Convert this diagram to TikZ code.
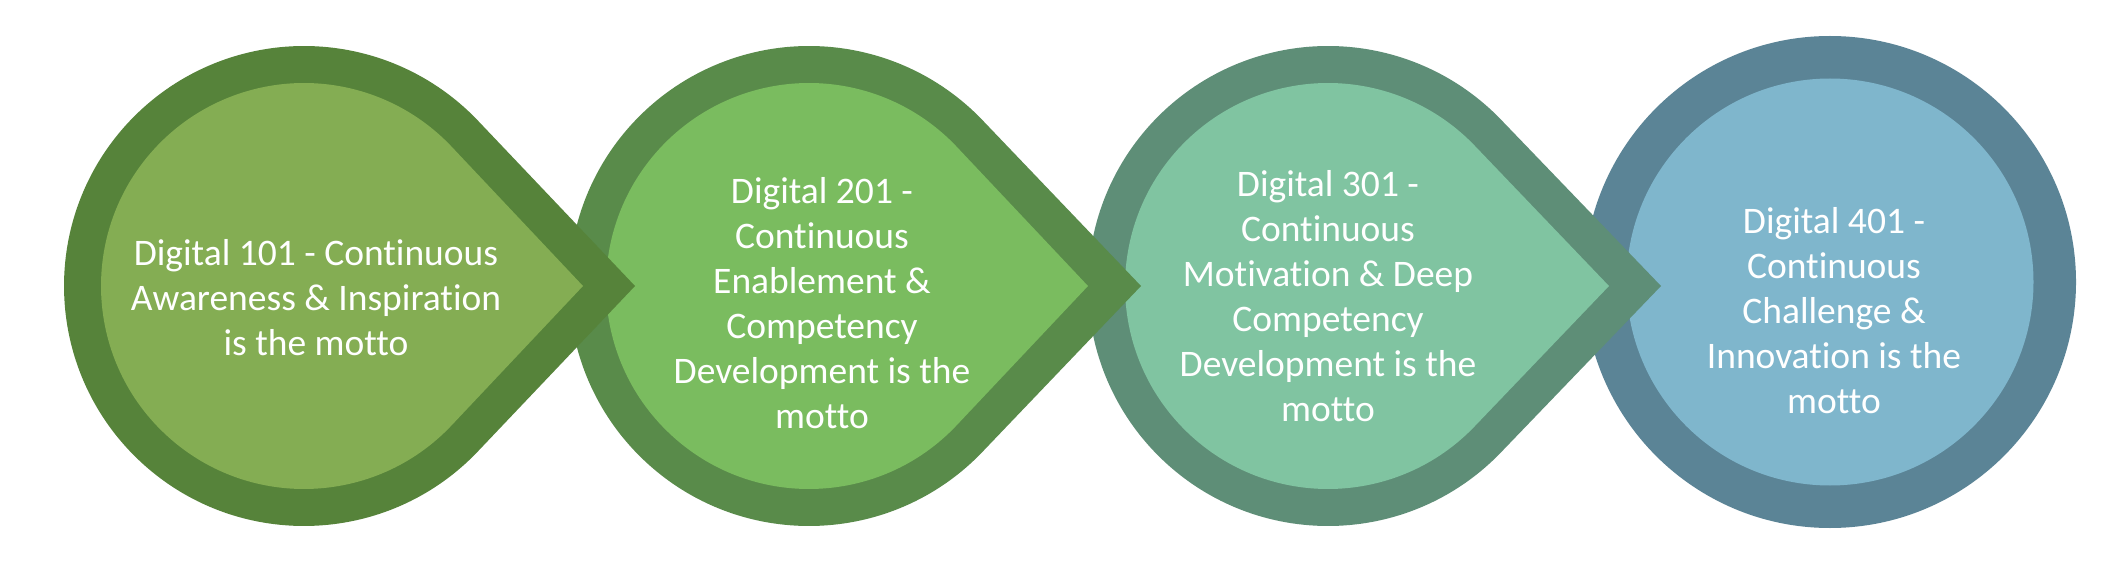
\documentclass[tikz,border=0pt]{standalone}
\usepackage{fontspec}
\usetikzlibrary{calc}
\newfontfamily\mottofam[Ligatures=NoCommon]{Carlito}
\newcommand\mottofont{\mottofam\fontsize{37.5bp}{45bp}\selectfont}
\definecolor{dkA}{RGB}{86,131,58}
\definecolor{ltA}{RGB}{132,173,83}
\definecolor{dkB}{RGB}{89,139,74}
\definecolor{ltB}{RGB}{122,188,95}
\definecolor{dkC}{RGB}{94,142,119}
\definecolor{ltC}{RGB}{128,196,161}
\definecolor{dkD}{RGB}{91,132,150}
\definecolor{ltD}{RGB}{127,182,204}
% #1 fill colour, #2 centre coordinate, #3 radius, #4 distance of tip from centre
\newcommand\tdrop[4]{%
  \fill[#1] ($(#2)+(#4,0)$) -- ($(#2)+({acos(#3/#4)}:#3)$)
    arc[start angle={acos(#3/#4)}, end angle={360-acos(#3/#4)}, radius=#3] -- cycle;}
\tikzset{
  motto/.style={text=white, align=center, font=\mottofont, inner sep=0pt},
}
\begin{document}
\begin{tikzpicture}[x=1bp,y=-1bp]
\fill[white] (0,0) rectangle (2118,563);
\useasboundingbox (0,0) rectangle (2118,563);
\coordinate (c1) at (304,286);
\coordinate (c2) at (809,286);
\coordinate (c3) at (1328,286);
\coordinate (c4) at (1830,282);
% stage 4 (plain circle)
\fill[dkD] (c4) circle[radius=246];
\fill[ltD] (c4) circle[radius=203.5];
% stage 3
\tdrop{dkC}{c3}{240}{333}
\tdrop{ltC}{c3}{203}{281}
% stage 2
\tdrop{dkB}{c2}{240}{332}
\tdrop{ltB}{c2}{203}{279}
% stage 1
\tdrop{dkA}{c1}{240}{331}
\tdrop{ltA}{c1}{203}{279}
% texts
\node[motto] (t1) at (316,297.5) {Digital 101 - Continuous\\Awareness \& Inspiration\\is the motto};
\node[motto] (t2) at (822,303) {Digital 201 -\\Continuous\\Enablement \&\\Competency\\Development is the\\motto};
\node[motto] (t3) at (1328,296.4) {Digital 301 -\\Continuous\\Motivation \& Deep\\Competency\\Development is the\\motto};
\node[motto] (t4) at (1834,311) {Digital 401 -\\Continuous\\Challenge \&\\Innovation is the\\motto};
\end{tikzpicture}
\end{document}
